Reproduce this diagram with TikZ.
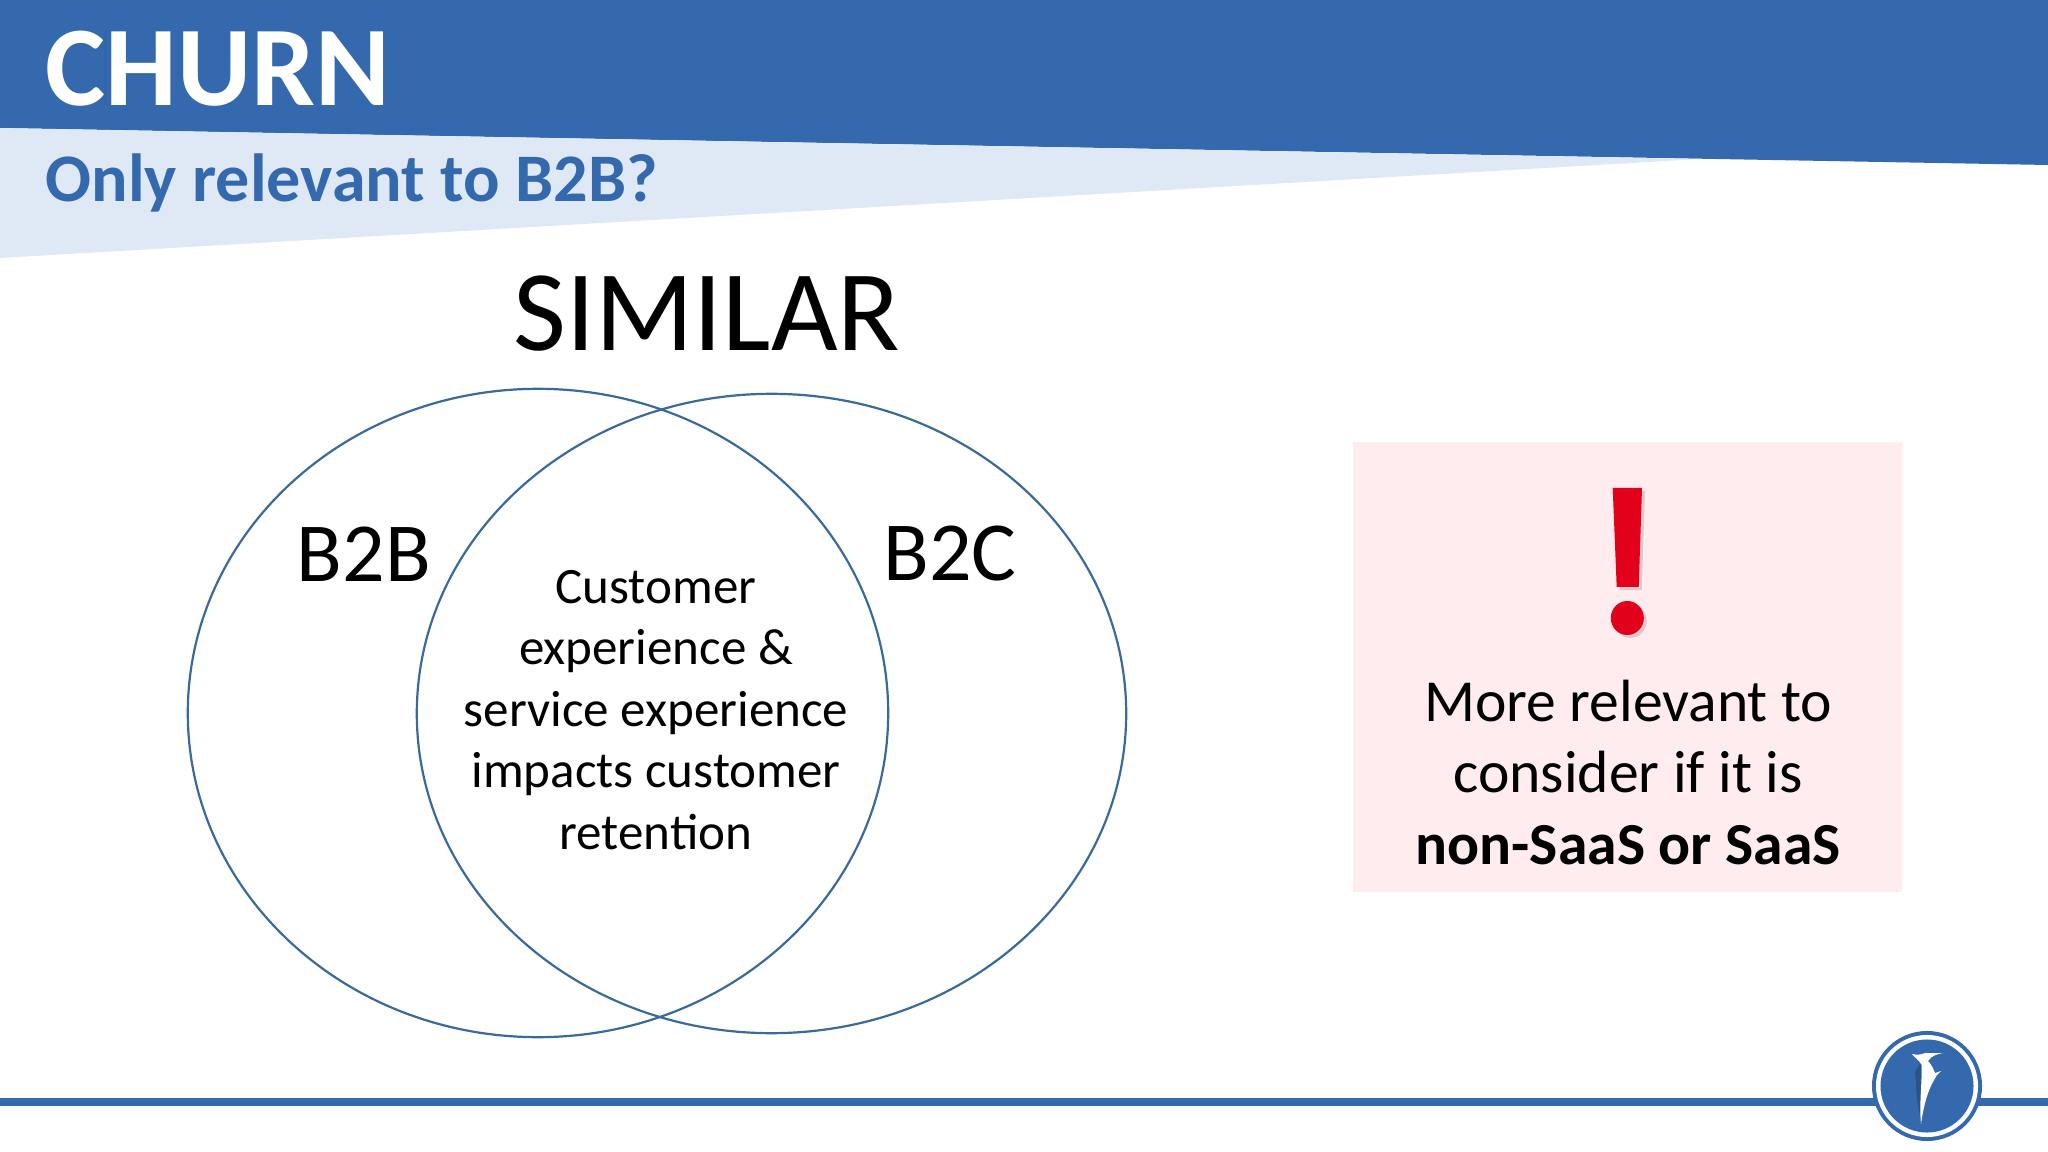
\documentclass[tikz,border=0pt]{standalone}
\usepackage{xcolor}
\usepackage{fontspec}
\setmainfont{Carlito}
\usetikzlibrary{shapes.geometric, shadows, positioning}
\definecolor{headblue}{HTML}{3469AD}
\definecolor{headlight}{HTML}{DEE9F5}
\definecolor{ringblue}{HTML}{3A6A9A}
\definecolor{notepink}{HTML}{FEECEF}
\definecolor{bangred}{HTML}{E2001A}
\definecolor{birdshade}{HTML}{2A5488}
% sizes are given in pixels of the 2048 wide slide
\newcommand{\fsize}[2]{\fontsize{\dimexpr #1pt*2845/10000\relax}{\dimexpr #2pt*2845/10000\relax}\selectfont}
\tikzset{bangmark/.style={fill=bangred,drop shadow={shadow xshift=0.03cm,shadow yshift=-0.03cm,opacity=0.3}}}
\begin{document}
\begin{tikzpicture}[x=0.01cm,y=-0.01cm]
        \useasboundingbox (0,0) rectangle (2048,1152);
        % header
        \fill[headblue] (0,0) -- (2048,0) -- (2048,165) -- (0,128) -- cycle;
        \fill[headlight] (0,128) -- (1700,159) -- (0,258) -- cycle;
        \node[anchor=base west,inner sep=0,text=white,font=\bfseries\fsize{113.5}{113.5}] (churn) at (45,106) {CHURN};
        \node[anchor=base west,inner sep=0,text=headblue,font=\bfseries\fsize{68}{68}] (only) at (45,202) {Only relevant to B2B?};
        % venn
        \begin{scope}[every node/.style={draw=ringblue,line width=0.22mm,ellipse,inner sep=0}]
          \node[minimum width=7cm,minimum height=6.48cm] (b2bring) at (538,713) {};
          \node[minimum width=7.09cm,minimum height=6.39cm] (b2cring) at (771.5,713.5) {};
        \end{scope}
        \node[font=\fsize{115}{115}] (similar) at (707,314) {SIMILAR};
        \begin{scope}[every node/.style={font=\fsize{84}{84}}]
          \node (b2b) at (364,554) {B2B};
          \node (b2c) at (950,554) {B2C};
        \end{scope}
        \node[align=center,font=\fsize{51}{61.4}] (shared) at (656,710) {Customer\\experience \&\\service experience\\impacts customer\\retention};
        % note on the right
        \fill[notepink] (1353,442) rectangle (1902,892);
        \path[bangmark] (1612.7,488) -- (1642,488) -- (1638.7,587) -- (1616.7,587) -- cycle;
        \node[bangmark,ellipse,minimum width=0.33cm,minimum height=0.34cm,inner sep=0] (bangdot) at (1627.3,618) {};
        \node[align=center,font=\fsize{59.6}{71.5}] (note) at (1628,772.5) {More relevant to\\consider if it is\\\textbf{non-SaaS or SaaS}};
        % foot line and logo
        \fill[headblue] (0,1098) rectangle (2048,1106);
        \node[circle,fill=headblue,minimum size=1.1cm,inner sep=0] (logoout) at (1927,1086) {};
        \node[circle,fill=white,minimum size=1.02cm,inner sep=0] (logoring) at (1927,1086) {};
        \node[circle,fill=headblue,minimum size=0.93cm,inner sep=0] (logoin) at (1927,1086) {};
        \fill[birdshade] (1921,1062) -- (1915,1072) -- (1917,1100) -- (1921,1122) -- cycle;
        \fill[white] (1912,1054) .. controls (1917,1055) and (1920,1055) .. (1925,1053)
          -- (1943,1053) .. controls (1938,1054) and (1932,1055) .. (1928,1061)
          .. controls (1931,1064) and (1933,1068) .. (1935,1073) -- (1941,1071)
          -- (1937,1075) .. controls (1932,1083) and (1925,1095) .. (1921,1124)
          .. controls (1919,1105) and (1922,1085) .. (1921.7,1065)
          .. controls (1919,1060) and (1915,1058) .. (1912,1054) -- cycle;
\end{tikzpicture}
\end{document}
